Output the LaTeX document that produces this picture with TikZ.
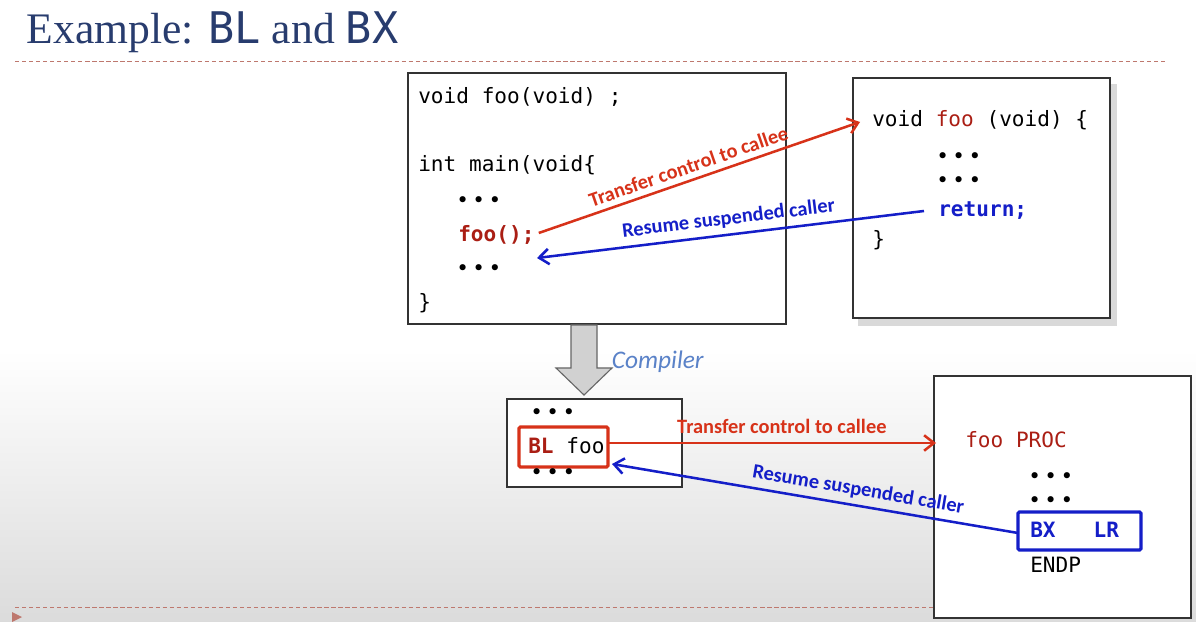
\documentclass[tikz,border=0pt]{standalone}
\usepackage{fontspec}
\setmainfont{Liberation Serif}
\newfontfamily\codefont{DejaVu Sans Mono}
\newfontfamily\labfont{Carlito}
\usetikzlibrary{arrows.meta}
\definecolor{titleblue}{RGB}{40,60,110}
\definecolor{callred}{RGB}{215,50,25}
\definecolor{fooRed}{RGB}{170,30,20}
\definecolor{retblue}{RGB}{20,30,200}
\definecolor{compblue}{RGB}{90,130,200}
\definecolor{rulered}{RGB}{190,120,110}
\tikzset{
  box/.style={draw=black!80,fill=white,line width=0.8pt},
  code/.style={anchor=west,inner sep=0pt,font=\codefont\fontsize{15}{18}\selectfont},
  call/.style={callred,line width=1.8pt,-{Straight Barb[length=7pt,width=11pt]}},
  back/.style={retblue,line width=1.8pt,-{Straight Barb[length=7pt,width=11pt]}},
  lab/.style={font=\labfont\bfseries\fontsize{14.5}{17}\selectfont,inner sep=2pt},
  hl/.style={line width=2.2pt,rounded corners=1pt}
}
\begin{document}
\begin{tikzpicture}[x=0.025cm,y=-0.025cm]
\useasboundingbox (0,0) rectangle (1196,622);
% background
\shade[top color=white,bottom color=black!14] (0,350) rectangle (1196,622);
\node[anchor=west,text=titleblue,font=\fontsize{31}{34}\selectfont] (title) at (22,32)
  {Example: {\codefont BL} and {\codefont BX}};
\draw[rulered,densely dashed,line width=0.6pt] (15,61) -- (1165,61);
\draw[rulered,densely dashed,line width=0.6pt] (15,607) -- (934,607);
\fill[rulered] (12,612) -- (22,617) -- (12,622) -- cycle;

% C source
\draw[box] (408,73) rectangle (786,324);
\node[code] (proto) at (418,97) {void foo(void) ;};
\node[code] (main) at (418,165) {int main(void\{};
\node[code] (d1) at (456,202) {\textbullet\,\textbullet\,\textbullet};
\node[code,text=fooRed,font=\codefont\bfseries\fontsize{15}{18}\selectfont] (call) at (458,235) {foo();};
\node[code] (d2) at (456,270) {\textbullet\,\textbullet\,\textbullet};
\node[code] (close) at (418,303) {\}};

\fill[black!15] (858,84) rectangle (1117,326);
\draw[box] (853,78) rectangle (1110,318);
\node[code] (def) at (872,120) {void {\color{fooRed}foo} (void) \{};
\node[code] (d3) at (936,158) {\textbullet\,\textbullet\,\textbullet};
\node[code] (d4) at (936,182) {\textbullet\,\textbullet\,\textbullet};
\node[code,text=retblue,font=\codefont\bfseries\fontsize{15}{18}\selectfont] (ret) at (938,211) {return;};
\node[code] (close2) at (872,240) {\}};

\coordinate (callee) at (860,122);
\coordinate (resume) at (537,258);
\draw[call] (call.east) ++(4,-2) -- (callee)
  node[lab,text=callred,pos=0.48,sloped,above=2pt] {Transfer control to callee};
\draw[back] (ret.west) ++(-14,0) -- (resume)
  node[lab,text=retblue,pos=0.5,sloped,above=2pt] {Resume suspended caller};

% compiler step
\draw[black!60,fill=black!18,line width=0.8pt] (571,325) -- (597,325) -- (597,368) -- (612,368)
  -- (584,395) -- (556,368) -- (571,368) -- cycle;
\node[anchor=west,text=compblue,font=\labfont\itshape\fontsize{18}{21}\selectfont] (clab) at (607,362) {Compiler};

% assembly
\draw[box] (507,399) rectangle (682,487);
\node[code] (d5) at (530,414) {\textbullet\,\textbullet\,\textbullet};
\draw[hl,callred] (519,427) rectangle (608,467);
\node[code,font=\codefont\fontsize{15}{18}\selectfont] (bl) at (528,446) {{\color{fooRed}\bfseries BL} foo};
\node[code] (d6) at (530,474) {\textbullet\,\textbullet\,\textbullet};

\draw[box] (934,376) rectangle (1191,618);
\node[code,text=fooRed] (proc) at (965,440) {foo\hspace{0.6em}PROC};
\node[code] (d7) at (1028,478) {\textbullet\,\textbullet\,\textbullet};
\node[code] (d8) at (1028,502) {\textbullet\,\textbullet\,\textbullet};
\draw[hl,retblue] (1018,512) rectangle (1141,550);
\node[code,text=retblue,font=\codefont\bfseries\fontsize{15}{18}\selectfont] (bx) at (1030,530) {BX\hspace{1.8em}LR};
\node[code] (endp) at (1030,565) {ENDP};

\coordinate (bltop) at (608,443);
\coordinate (blbot) at (612,464);
\coordinate (procin) at (936,443);
\draw[call] (bltop) -- (procin)
  node[lab,text=callred,pos=0.53,above=4pt] {Transfer control to callee};
\draw[back] (1018,533) -- (blbot)
  node[lab,text=retblue,pos=0.4,sloped,above=2pt] {Resume suspended caller};
\end{tikzpicture}
\end{document}
